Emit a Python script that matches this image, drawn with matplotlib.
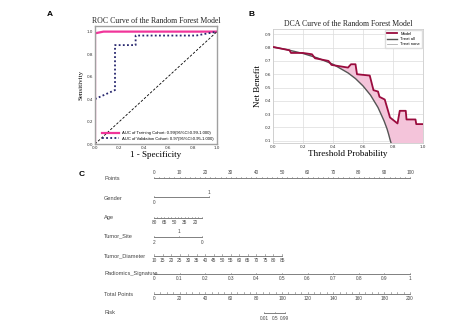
import numpy as np
import matplotlib.pyplot as plt

# ---- panel A: ROC values ----
train_fpr = [0.0, 0.0, 0.07, 1.0]
train_tpr = [0.0, 0.985, 1.0, 1.0]
val_fpr = [0.0, 0.164, 0.164, 0.333, 0.333, 0.83, 1.0]
val_tpr = [0.40, 0.48, 0.88, 0.88, 0.965, 0.965, 1.0]
train_label = 'AUC of Training Cohort: 0.99(95%CI:0.99-1.000)'
val_label = 'AUC of Validation Cohort: 0.97(95%CI:0.95-1.000)'

# ---- panel B: DCA values ----
model_x = [0.0, 0.11, 0.12, 0.20, 0.26, 0.28, 0.37, 0.39, 0.50, 0.52, 0.55, 0.56,
           0.645, 0.67, 0.70, 0.71, 0.745, 0.78, 0.83, 0.845, 0.885, 0.89, 0.95, 0.955, 1.0]
model_y = [0.805, 0.78, 0.76, 0.76, 0.75, 0.72, 0.70, 0.67, 0.65, 0.675, 0.675, 0.60,
           0.59, 0.48, 0.47, 0.43, 0.41, 0.275, 0.23, 0.325, 0.325, 0.26, 0.26, 0.225, 0.225]
all_x = [0.0, 0.1, 0.2, 0.3, 0.4, 0.5, 0.55, 0.6, 0.65, 0.7, 0.74, 0.76, 0.77, 0.78, 0.79]
all_y = [0.805, 0.783, 0.756, 0.721, 0.675, 0.61, 0.567, 0.512, 0.443, 0.35, 0.25, 0.19, 0.152, 0.11, 0.072]

# ---- panel C: nomogram scales (positions in "Points" units) ----
point_ticks = list(range(0, 101, 10))
gender_labels = ['0', '1']
gender_pts = [0, 21.5]
age_start, age_stop, age_end_pts = 80, 10, 18.7
age_labels = [80, 65, 50, 35, 20]
site_labels = ['2', '1', '0']
site_pts = [0, 9.8, 18.7]
diam_start, diam_stop, diam_end_pts = 10, 85, 50
radio_labels = ['0', '0.1', '0.2', '0.3', '0.4', '0.5', '0.6', '0.7', '0.8', '0.9', '1']
total_ticks = list(range(0, 201, 20))
risk_labels = ['0.01', '0.5', '0.99']
risk_total = [86, 94.5, 102]

W, H = 474, 323
fig = plt.figure(figsize=(W / 100, H / 100), dpi=100)


def box(l, t, r, b):
    return [l / W, 1 - b / H, (r - l) / W, (b - t) / H]


serif = 'Liberation Serif'
sans = 'Liberation Sans'

# nomogram canvas (pixels on y, points on x)
ax_c = fig.add_axes([0, 0, 1, 1])
ax_c.set_xlim(-154 / 2.56, (W - 154) / 2.56)
ax_c.set_ylim(H, 0)
ax_c.axis('off')

line_c = '#808080'
text_c = '#444444'
tfs = 3.4


def scale(y, pos, labels, lab_pos=None, minor=None, above=False, lab_dy=5.0):
    ax_c.plot([min(pos), max(pos)], [y, y], color=line_c, lw=0.7)
    ticks = minor if minor is not None else pos
    for p in ticks:
        ax_c.plot([p, p], [y, y - 1.4], color=line_c, lw=0.45)
    lp = lab_pos if lab_pos is not None else pos
    for p, s in zip(lp, labels):
        ax_c.text(p, y - lab_dy if above else y + lab_dy, s, fontsize=tfs, color=text_c,
                  ha='center', va='center', family=sans)


def row_label(y, s):
    ax_c.text(-19.5, y, s, fontsize=4.1, color=text_c, ha='left', va='center', family=sans)


row_label(179, 'Points')
scale(178, [0, 100], [str(t) for t in point_ticks], lab_pos=point_ticks,
      minor=list(np.arange(0, 101, 2)), above=True)

row_label(198, 'Gender')
ax_c.plot(gender_pts, [197, 197], color=line_c, lw=0.7)
for p in gender_pts:
    ax_c.plot([p, p], [197, 195.6], color=line_c, lw=0.45)
ax_c.text(gender_pts[1], 192, gender_labels[1], fontsize=tfs, color=text_c, ha='center', va='center', family=sans)
ax_c.text(gender_pts[0], 203, gender_labels[0], fontsize=tfs, color=text_c, ha='center', va='center', family=sans)

row_label(217, 'Age')
age_ticks = np.arange(age_start, age_stop - 1, -5)
age_pos = (age_start - age_ticks) / (age_start - age_stop) * age_end_pts
age_lab_pos = [(age_start - a) / (age_start - age_stop) * age_end_pts for a in age_labels]
scale(218, list(age_pos), [str(a) for a in age_labels], lab_pos=age_lab_pos, minor=list(age_pos))

row_label(236, 'Tumor_Site')
ax_c.plot([site_pts[0], site_pts[-1]], [237, 237], color=line_c, lw=0.7)
for p in site_pts:
    ax_c.plot([p, p], [237, 235.6], color=line_c, lw=0.45)
ax_c.text(site_pts[1], 231.5, site_labels[1], fontsize=tfs, color=text_c, ha='center', va='center', family=sans)
for i in (0, 2):
    ax_c.text(site_pts[i], 242, site_labels[i], fontsize=tfs, color=text_c, ha='center', va='center', family=sans)

row_label(256, 'Tumor_Diameter')
diam_ticks = np.arange(diam_start, diam_stop + 1, 5)
diam_pos = (diam_ticks - diam_start) / (diam_stop - diam_start) * diam_end_pts
scale(255.5, list(diam_pos), [str(d) for d in diam_ticks])

row_label(274, 'Radiomics_Signature')
radio_pos = [i * 10 for i in range(len(radio_labels))]
scale(274, radio_pos, radio_labels)

row_label(294, 'Total Points')
total_pos = [t / 2 for t in total_ticks]
scale(293.5, total_pos, [str(t) for t in total_ticks], minor=list(np.arange(0, 101, 2.5)))

row_label(313, 'Risk')
risk_pos = [t / 2 for t in risk_total]
scale(313, risk_pos, risk_labels)

# ---- panel A ----
ax_a = fig.add_axes(box(95, 26, 217, 144))
ax_a.plot(train_fpr, train_tpr, color='#f0359a', lw=1.6, label=train_label, solid_joinstyle='miter')
ax_a.plot(val_fpr, val_tpr, color='#26266e', lw=1.3, ls=(0, (1, 1.3)), label=val_label)
ax_a.plot([0, 1], [0, 1], color='black', lw=0.6, ls=(0, (3, 2)))
ax_a.set_xlim(0, 1)
ax_a.set_ylim(0, 1.05)
ax_a.set_xticks(np.arange(0, 1.01, 0.2))
ax_a.set_yticks(np.arange(0, 1.01, 0.2))
ax_a.set_xticklabels(['%.1f' % v for v in np.arange(0, 1.01, 0.2)])
ax_a.set_yticklabels(['%.1f' % v for v in np.arange(0, 1.01, 0.2)])
ax_a.tick_params(labelsize=3, length=0, pad=1.5, colors='#333333')
for s in ax_a.spines.values():
    s.set_color('#a0a0a0')
    s.set_linewidth(1.0)
ax_a.set_title('ROC Curve of the Random Forest Model', fontsize=5.6, family=serif, pad=2.5, color='#222222')
ax_a.set_xlabel('1 - Specificity', fontsize=6.5, family=serif, labelpad=0.5)
ax_a.set_ylabel('Sensitivity', fontsize=5, family=serif, labelpad=2)
ax_a.legend(loc='lower right', handlelength=4, frameon=False,
            borderaxespad=0.4, labelspacing=0.3, prop={'family': sans, 'size': 3.0})

# ---- panel B ----
ax_b = fig.add_axes(box(273, 29, 423, 143))
poly_x = model_x + [1.0] + all_x[::-1]
poly_y = model_y + [0.0] + all_y[::-1]
ax_b.fill(poly_x, poly_y, color='#f4c4da', lw=0, zorder=1)
ax_b.plot(model_x, model_y, color='#9a0c3e', lw=1.3, label='Model', zorder=3)
ax_b.plot(all_x, all_y, color='#555555', lw=1.0, label='Treat all', zorder=2)
ax_b.axhline(0, color='#aaaaaa', lw=0.6, label='Treat none')
ax_b.set_xlim(0, 1)
ax_b.set_ylim(0.083, 0.94)
ax_b.set_xticks(np.arange(0, 1.01, 0.2))
ax_b.set_yticks(np.arange(0.1, 0.91, 0.1))
ax_b.set_xticklabels(['%.1f' % v for v in np.arange(0, 1.01, 0.2)])
ax_b.set_yticklabels(['%.1f' % v for v in np.arange(0.1, 0.91, 0.1)])
ax_b.tick_params(labelsize=3, length=0, pad=1.5, colors='#333333')
ax_b.grid(True, color='#dcdcdc', lw=0.5)
ax_b.set_axisbelow(True)
for s in ax_b.spines.values():
    s.set_color('#cccccc')
    s.set_linewidth(0.6)
ax_b.set_title('DCA Curve of the Random Forest Model', fontsize=5.6, family=serif, pad=2.5, color='#222222')
ax_b.set_xlabel('Threshold Probability', fontsize=6.5, family=serif, labelpad=0.5)
ax_b.set_ylabel('Net Benefit', fontsize=6.5, family=serif, labelpad=2)
ax_b.legend(loc='upper right', handlelength=2.5, frameon=True, fancybox=False,
            edgecolor='#dddddd', framealpha=1, borderaxespad=0.3, labelspacing=0.3,
            prop={'family': sans, 'size': 3})

# panel letters
fig.text(50 / W, 1 - 15 / H, 'A', fontsize=6, weight='bold', family=sans, va='center', ha='center')
fig.text(252 / W, 1 - 15 / H, 'B', fontsize=6, weight='bold', family=sans, va='center', ha='center')
fig.text(82 / W, 1 - 174 / H, 'C', fontsize=6, weight='bold', family=sans, va='center', ha='center')

fig.savefig('out.png', dpi=100)
